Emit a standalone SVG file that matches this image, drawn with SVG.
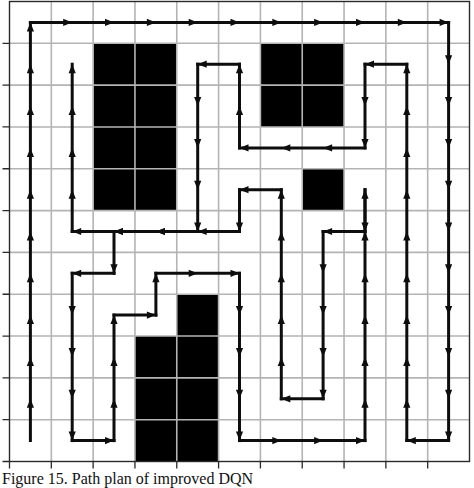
<svg xmlns="http://www.w3.org/2000/svg" width="474" height="488" viewBox="0 0 474 488">
<style>
.obs{fill:#000}
.grid{fill:none;stroke:#b4b4b4;stroke-width:1.6}
.frame{fill:none;stroke:#2a2a2a;stroke-width:1.4}
.tick{stroke:#2a2a2a;stroke-width:1.3}
.run{fill:none;stroke:#0d0d0d;stroke-width:3;stroke-linecap:square;stroke-linejoin:miter;marker-mid:url(#ah);marker-end:url(#ah)}
.cap{font-family:"Liberation Serif","Times New Roman",serif;font-size:16px;fill:#111}
</style>
<defs>
<marker id="ah" markerUnits="userSpaceOnUse" orient="auto" overflow="visible" markerWidth="1" markerHeight="1" refX="0" refY="0">
<path d="M-9,-3.6 L0,0 L-9,3.6 Z" fill="#0d0d0d"/>
</marker>
</defs>
<rect width="474" height="488" fill="#fff"/>
<g id="obstacles">
<rect id="obs1" class="obs" x="93.14" y="43.32" width="83.64" height="167.27"/>
<rect id="obs2" class="obs" x="260.41" y="43.32" width="83.64" height="83.63"/>
<rect id="obs3" class="obs" x="302.23" y="168.77" width="41.82" height="41.82"/>
<rect id="obs4" class="obs" x="176.77" y="294.23" width="41.82" height="167.27"/>
<rect id="obs5" class="obs" x="134.95" y="336.05" width="41.82" height="125.45"/>
</g>
<path id="grid" class="grid" d="M51.32,1.5V461.5M93.14,1.5V461.5M134.95,1.5V461.5M176.77,1.5V461.5M218.59,1.5V461.5M260.41,1.5V461.5M302.23,1.5V461.5M344.05,1.5V461.5M385.86,1.5V461.5M427.68,1.5V461.5M9.5,43.32H469.5M9.5,85.14H469.5M9.5,126.95H469.5M9.5,168.77H469.5M9.5,210.59H469.5M9.5,252.41H469.5M9.5,294.23H469.5M9.5,336.05H469.5M9.5,377.86H469.5M9.5,419.68H469.5"/>
<rect id="frame" class="frame" x="9.5" y="1.5" width="460" height="460"/>
<path id="ticks" class="tick" d="M2.5,43.32H9.5M2.5,85.14H9.5M2.5,126.95H9.5M2.5,168.77H9.5M2.5,210.59H9.5M2.5,252.41H9.5M2.5,294.23H9.5M2.5,336.05H9.5M2.5,377.86H9.5M2.5,419.68H9.5M2.5,461.5H9.5M9.5,461.5V468.5M51.32,461.5V468.5M93.14,461.5V468.5M134.95,461.5V468.5M176.77,461.5V468.5M218.59,461.5V468.5M260.41,461.5V468.5M302.23,461.5V468.5M344.05,461.5V468.5M385.86,461.5V468.5M427.68,461.5V468.5"/>
<g id="connectors">
<polyline class="run" points="30.4,440.6 30.4,398.8 30.4,357 30.4,315.1 30.4,273.3 30.4,231.5 30.4,189.7 30.4,147.9 30.4,106 30.4,64.2 30.4,22.4"/>
<polyline class="run" points="30.4,22.4 72.2,22.4 114,22.4 155.9,22.4 197.7,22.4 239.5,22.4 281.3,22.4 323.1,22.4 365,22.4 406.8,22.4 448.6,22.4"/>
<polyline class="run" points="448.6,22.4 448.6,64.2 448.6,106 448.6,147.9 448.6,189.7 448.6,231.5 448.6,273.3 448.6,315.1 448.6,357 448.6,398.8 448.6,440.6"/>
<polyline class="run" points="448.6,440.6 406.8,440.6"/>
<polyline class="run" points="406.8,440.6 406.8,398.8 406.8,357 406.8,315.1 406.8,273.3 406.8,231.5 406.8,189.7 406.8,147.9 406.8,106 406.8,64.2"/>
<polyline class="run" points="406.8,64.2 365,64.2"/>
<polyline class="run" points="365,64.2 365,106 365,147.9"/>
<polyline class="run" points="365,147.9 323.1,147.9 281.3,147.9 239.5,147.9"/>
<polyline class="run" points="239.5,147.9 239.5,106 239.5,64.2"/>
<polyline class="run" points="239.5,64.2 197.7,64.2"/>
<polyline class="run" points="197.7,64.2 197.7,106 197.7,147.9 197.7,189.7 197.7,231.5"/>
<polyline class="run" points="197.7,231.5 155.9,231.5 114,231.5"/>
<polyline class="run" points="114,231.5 114,273.3"/>
<polyline class="run" points="114,273.3 72.2,273.3"/>
<polyline class="run" points="72.2,273.3 72.2,315.1 72.2,357 72.2,398.8 72.2,440.6"/>
<polyline class="run" points="72.2,440.6 114,440.6"/>
<polyline class="run" points="114,440.6 114,398.8 114,357 114,315.1"/>
<polyline class="run" points="114,315.1 155.9,315.1"/>
<polyline class="run" points="155.9,315.1 155.9,273.3"/>
<polyline class="run" points="155.9,273.3 197.7,273.3 239.5,273.3"/>
<polyline class="run" points="239.5,273.3 239.5,315.1 239.5,357 239.5,398.8 239.5,440.6"/>
<polyline class="run" points="239.5,440.6 281.3,440.6 323.1,440.6 365,440.6"/>
<polyline class="run" points="365,440.6 365,398.8 365,357 365,315.1 365,273.3 365,231.5 365,189.7"/>
<polyline class="run" points="365,189.7 365,231.5"/>
<polyline class="run" points="365,231.5 323.1,231.5"/>
<polyline class="run" points="323.1,231.5 323.1,273.3 323.1,315.1 323.1,357 323.1,398.8"/>
<polyline class="run" points="323.1,398.8 281.3,398.8"/>
<polyline class="run" points="281.3,398.8 281.3,357 281.3,315.1 281.3,273.3 281.3,231.5 281.3,189.7"/>
<polyline class="run" points="281.3,189.7 239.5,189.7"/>
<polyline class="run" points="239.5,189.7 239.5,231.5"/>
<polyline class="run" points="239.5,231.5 197.7,231.5 155.9,231.5 114,231.5 72.2,231.5"/>
<polyline class="run" points="72.2,231.5 72.2,189.7 72.2,147.9 72.2,106 72.2,64.2"/>
</g>
<text id="caption" class="cap" x="2" y="484">Figure 15. Path plan of improved DQN</text>
</svg>
